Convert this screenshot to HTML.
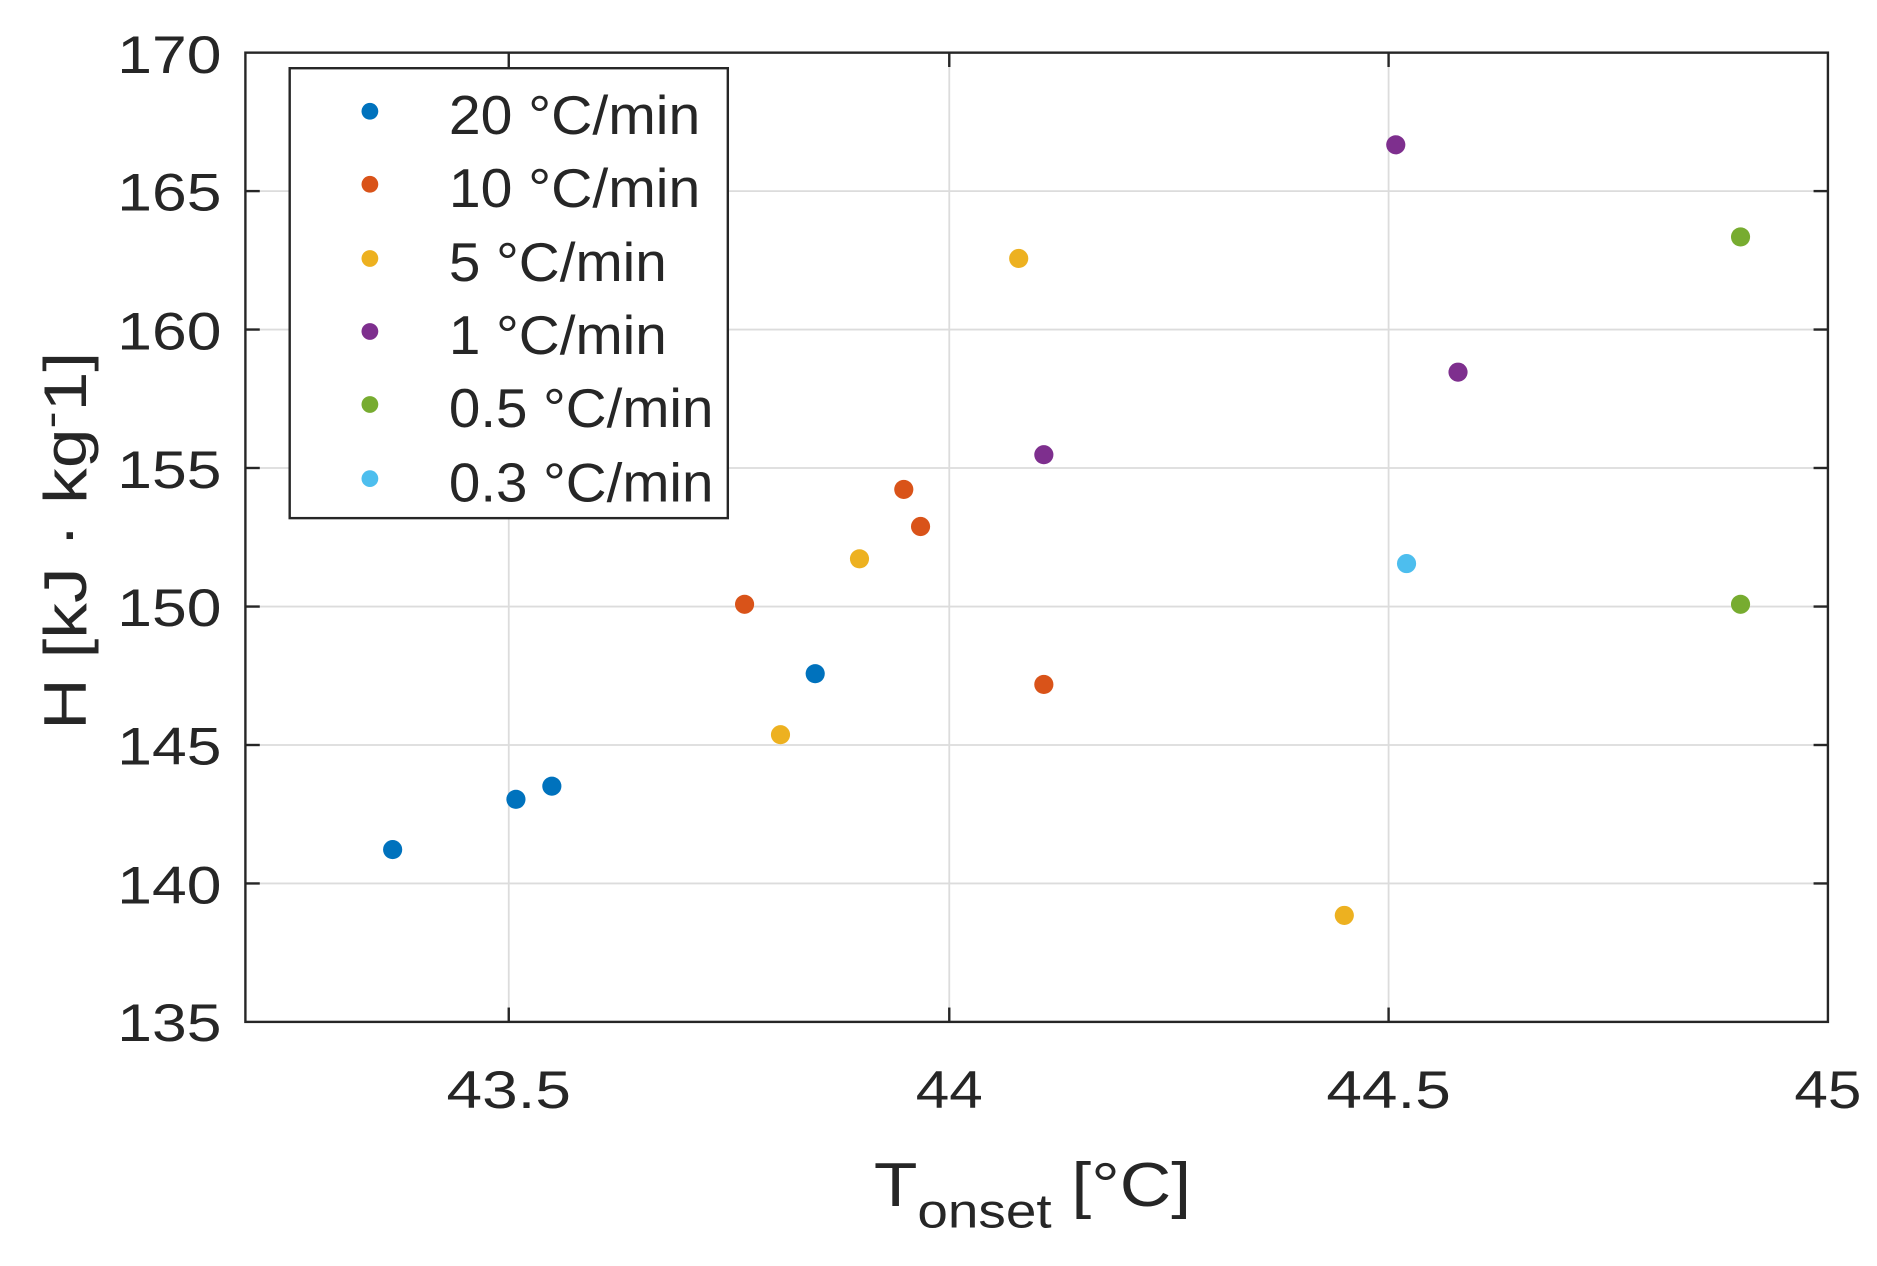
<!DOCTYPE html>
<html><head><meta charset="utf-8"><style>html,body{margin:0;padding:0;background:#fff}svg{display:block}</style></head>
<body>
<svg width="1877" height="1266" viewBox="0 0 1568 1058" preserveAspectRatio="none" xmlns="http://www.w3.org/2000/svg" font-family="Liberation Sans, sans-serif" fill="#262626">
<rect width="1568" height="1058" fill="#fff"/>
<g stroke="#dcdcdc" stroke-width="1.5">
<line x1="425" y1="44" x2="425" y2="854"/><line x1="793" y1="44" x2="793" y2="854"/><line x1="1160" y1="44" x2="1160" y2="854"/>
<line x1="205" y1="159.7" x2="1527" y2="159.7"/><line x1="205" y1="275.4" x2="1527" y2="275.4"/><line x1="205" y1="391.1" x2="1527" y2="391.1"/><line x1="205" y1="506.9" x2="1527" y2="506.9"/><line x1="205" y1="622.6" x2="1527" y2="622.6"/><line x1="205" y1="738.3" x2="1527" y2="738.3"/>
</g>
<rect x="205" y="44" width="1322" height="810" fill="none" stroke="#262626" stroke-width="2"/>
<g stroke="#262626" stroke-width="2">
<line x1="425" y1="854" x2="425" y2="842"/><line x1="793" y1="854" x2="793" y2="842"/><line x1="1160" y1="854" x2="1160" y2="842"/>
<line x1="425" y1="44" x2="425" y2="56"/><line x1="793" y1="44" x2="793" y2="56"/><line x1="1160" y1="44" x2="1160" y2="56"/>
<line x1="205" y1="159.7" x2="217" y2="159.7"/><line x1="205" y1="275.4" x2="217" y2="275.4"/><line x1="205" y1="391.1" x2="217" y2="391.1"/><line x1="205" y1="506.9" x2="217" y2="506.9"/><line x1="205" y1="622.6" x2="217" y2="622.6"/><line x1="205" y1="738.3" x2="217" y2="738.3"/>
<line x1="1527" y1="159.7" x2="1515" y2="159.7"/><line x1="1527" y1="275.4" x2="1515" y2="275.4"/><line x1="1527" y1="391.1" x2="1515" y2="391.1"/><line x1="1527" y1="506.9" x2="1515" y2="506.9"/><line x1="1527" y1="622.6" x2="1515" y2="622.6"/><line x1="1527" y1="738.3" x2="1515" y2="738.3"/>
</g>
<g font-size="44">
<text x="98" y="61" textLength="87" lengthAdjust="spacingAndGlyphs">170</text><text x="98" y="176" textLength="87" lengthAdjust="spacingAndGlyphs">165</text><text x="98" y="292" textLength="87" lengthAdjust="spacingAndGlyphs">160</text><text x="98" y="408" textLength="87" lengthAdjust="spacingAndGlyphs">155</text><text x="98" y="523" textLength="87" lengthAdjust="spacingAndGlyphs">150</text><text x="98" y="639" textLength="87" lengthAdjust="spacingAndGlyphs">145</text><text x="98" y="755" textLength="87" lengthAdjust="spacingAndGlyphs">140</text><text x="98" y="870" textLength="87" lengthAdjust="spacingAndGlyphs">135</text>
</g>
<g font-size="44">
<text x="373" y="926" textLength="104" lengthAdjust="spacingAndGlyphs">43.5</text><text x="765" y="926" textLength="56" lengthAdjust="spacingAndGlyphs">44</text><text x="1108" y="926" textLength="104" lengthAdjust="spacingAndGlyphs">44.5</text><text x="1499" y="926" textLength="56" lengthAdjust="spacingAndGlyphs">45</text>
</g>
<text x="730" y="1008" font-size="52" textLength="265" lengthAdjust="spacingAndGlyphs">T<tspan font-size="40" dy="18">onset</tspan><tspan dy="-18" font-size="52"> [°C]</tspan></text>
<text transform="translate(72,452) rotate(-90)" font-size="50" x="-158" textLength="316" lengthAdjust="spacingAndGlyphs">H [kJ · kg<tspan font-size="36" dy="-18">-</tspan><tspan dy="18">1]</tspan></text>
<g>
<circle cx="328" cy="710" r="8" fill="#0072BD"/><circle cx="431" cy="668" r="8" fill="#0072BD"/><circle cx="461" cy="657" r="8" fill="#0072BD"/><circle cx="681" cy="563" r="8" fill="#0072BD"/>
<circle cx="622" cy="505" r="8" fill="#D95319"/><circle cx="755" cy="409" r="8" fill="#D95319"/><circle cx="769" cy="440" r="8" fill="#D95319"/><circle cx="872" cy="572" r="8" fill="#D95319"/>
<circle cx="851" cy="216" r="8" fill="#EDB120"/><circle cx="718" cy="467" r="8" fill="#EDB120"/><circle cx="652" cy="614" r="8" fill="#EDB120"/><circle cx="1123" cy="765" r="8" fill="#EDB120"/>
<circle cx="1166" cy="121" r="8" fill="#7E2F8E"/><circle cx="1218" cy="311" r="8" fill="#7E2F8E"/><circle cx="872" cy="380" r="8" fill="#7E2F8E"/>
<circle cx="1454" cy="198" r="8" fill="#77AC30"/><circle cx="1454" cy="505" r="8" fill="#77AC30"/>
<circle cx="1175" cy="471" r="8" fill="#4DBEEE"/>
</g>
<rect x="242" y="57" width="366" height="376" fill="#fff" stroke="#262626" stroke-width="2"/>
<g>
<circle cx="309" cy="93" r="7" fill="#0072BD"/><circle cx="309" cy="154" r="7" fill="#D95319"/><circle cx="309" cy="216" r="7" fill="#EDB120"/><circle cx="309" cy="277" r="7" fill="#7E2F8E"/><circle cx="309" cy="338" r="7" fill="#77AC30"/><circle cx="309" cy="400" r="7" fill="#4DBEEE"/>
</g>
<g font-size="46">
<text x="375" y="112" textLength="210" lengthAdjust="spacingAndGlyphs">20 °C/min</text><text x="375" y="173" textLength="210" lengthAdjust="spacingAndGlyphs">10 °C/min</text><text x="375" y="235" textLength="182" lengthAdjust="spacingAndGlyphs">5 °C/min</text><text x="375" y="296" textLength="182" lengthAdjust="spacingAndGlyphs">1 °C/min</text><text x="375" y="357" textLength="221" lengthAdjust="spacingAndGlyphs">0.5 °C/min</text><text x="375" y="419" textLength="221" lengthAdjust="spacingAndGlyphs">0.3 °C/min</text>
</g>
</svg>
</body></html>
